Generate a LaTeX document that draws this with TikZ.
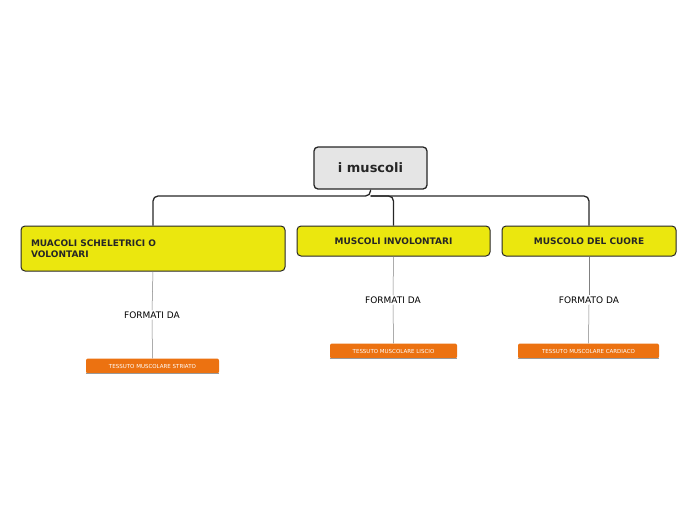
\documentclass[tikz,border=0pt]{standalone}
\usepackage{fontspec}
\setmainfont{DejaVu Sans}
\begin{document}
\begin{tikzpicture}[x=1pt,y=-1pt,
  top/.style={draw=black!85,line width=1.3pt,rounded corners=4pt,fill=black!10,minimum width=113pt,minimum height=42pt,font=\bfseries\fontsize{13}{15}\selectfont,text=black!85},
  sub/.style={draw=black!85,line width=1pt,rounded corners=4pt,fill={rgb,255:red,235;green,231;blue,14},font=\bfseries\fontsize{9}{11}\selectfont,text=black!85,minimum height=30pt,inner xsep=10pt},
  lab/.style={font=\fontsize{9}{11}\selectfont,fill=white,inner sep=1pt},
  leaf/.style={fill={rgb,255:red,236;green,114;blue,17},rounded corners=2pt,text=white,font=\fontsize{5.5}{6}\selectfont,minimum height=15pt,inner xsep=5pt},
  bus/.style={draw=black!85,line width=1.3pt,rounded corners=5pt},
  thin/.style={draw=black!50,line width=0.5pt}]
\useasboundingbox (0,0) rectangle (696,520);
\node[top] (r) at (370.5,168) {i muscoli};
\node[sub,minimum width=264pt,minimum height=45pt,align=left,text width=244pt] (a) at (153,248.5) {MUACOLI SCHELETRICI O\\VOLONTARI};
\node[sub,minimum width=193pt] (b) at (393.5,241) {MUSCOLI INVOLONTARI};
\node[sub,minimum width=174pt] (c) at (589,241) {MUSCOLO DEL CUORE};
\coordinate (j) at (370.5,196);
\draw[bus] (r.south) -- (j) -| (a.north);
\draw[bus] (j) -| (b.north);
\draw[bus] (j) -| (c.north);
\node[lab] (la) at (152,315) {FORMATI DA};
\node[lab] (lb) at (393,300) {FORMATI DA};
\node[lab] (lc) at (589,300) {FORMATO DA};
\node[leaf,minimum width=133pt] (oa) at (152.5,366) {TESSUTO MUSCOLARE STRIATO};
\node[leaf,minimum width=127pt] (ob) at (393.5,351) {TESSUTO MUSCOLARE LISCIO};
\node[leaf,minimum width=141pt] (oc) at (588.5,351) {TESSUTO MUSCOLARE CARDIACO};
\foreach \s/\l/\o in {a/la/oa,b/lb/ob,c/lc/oc}{
  \draw[thin] (\s.south) -- (\l.north);
  \draw[thin] (\l.south) -- (\o.north);
  \draw[black!40,line width=0.8pt] (\o.south west) -- (\o.south east);
}
\end{tikzpicture}
\end{document}
